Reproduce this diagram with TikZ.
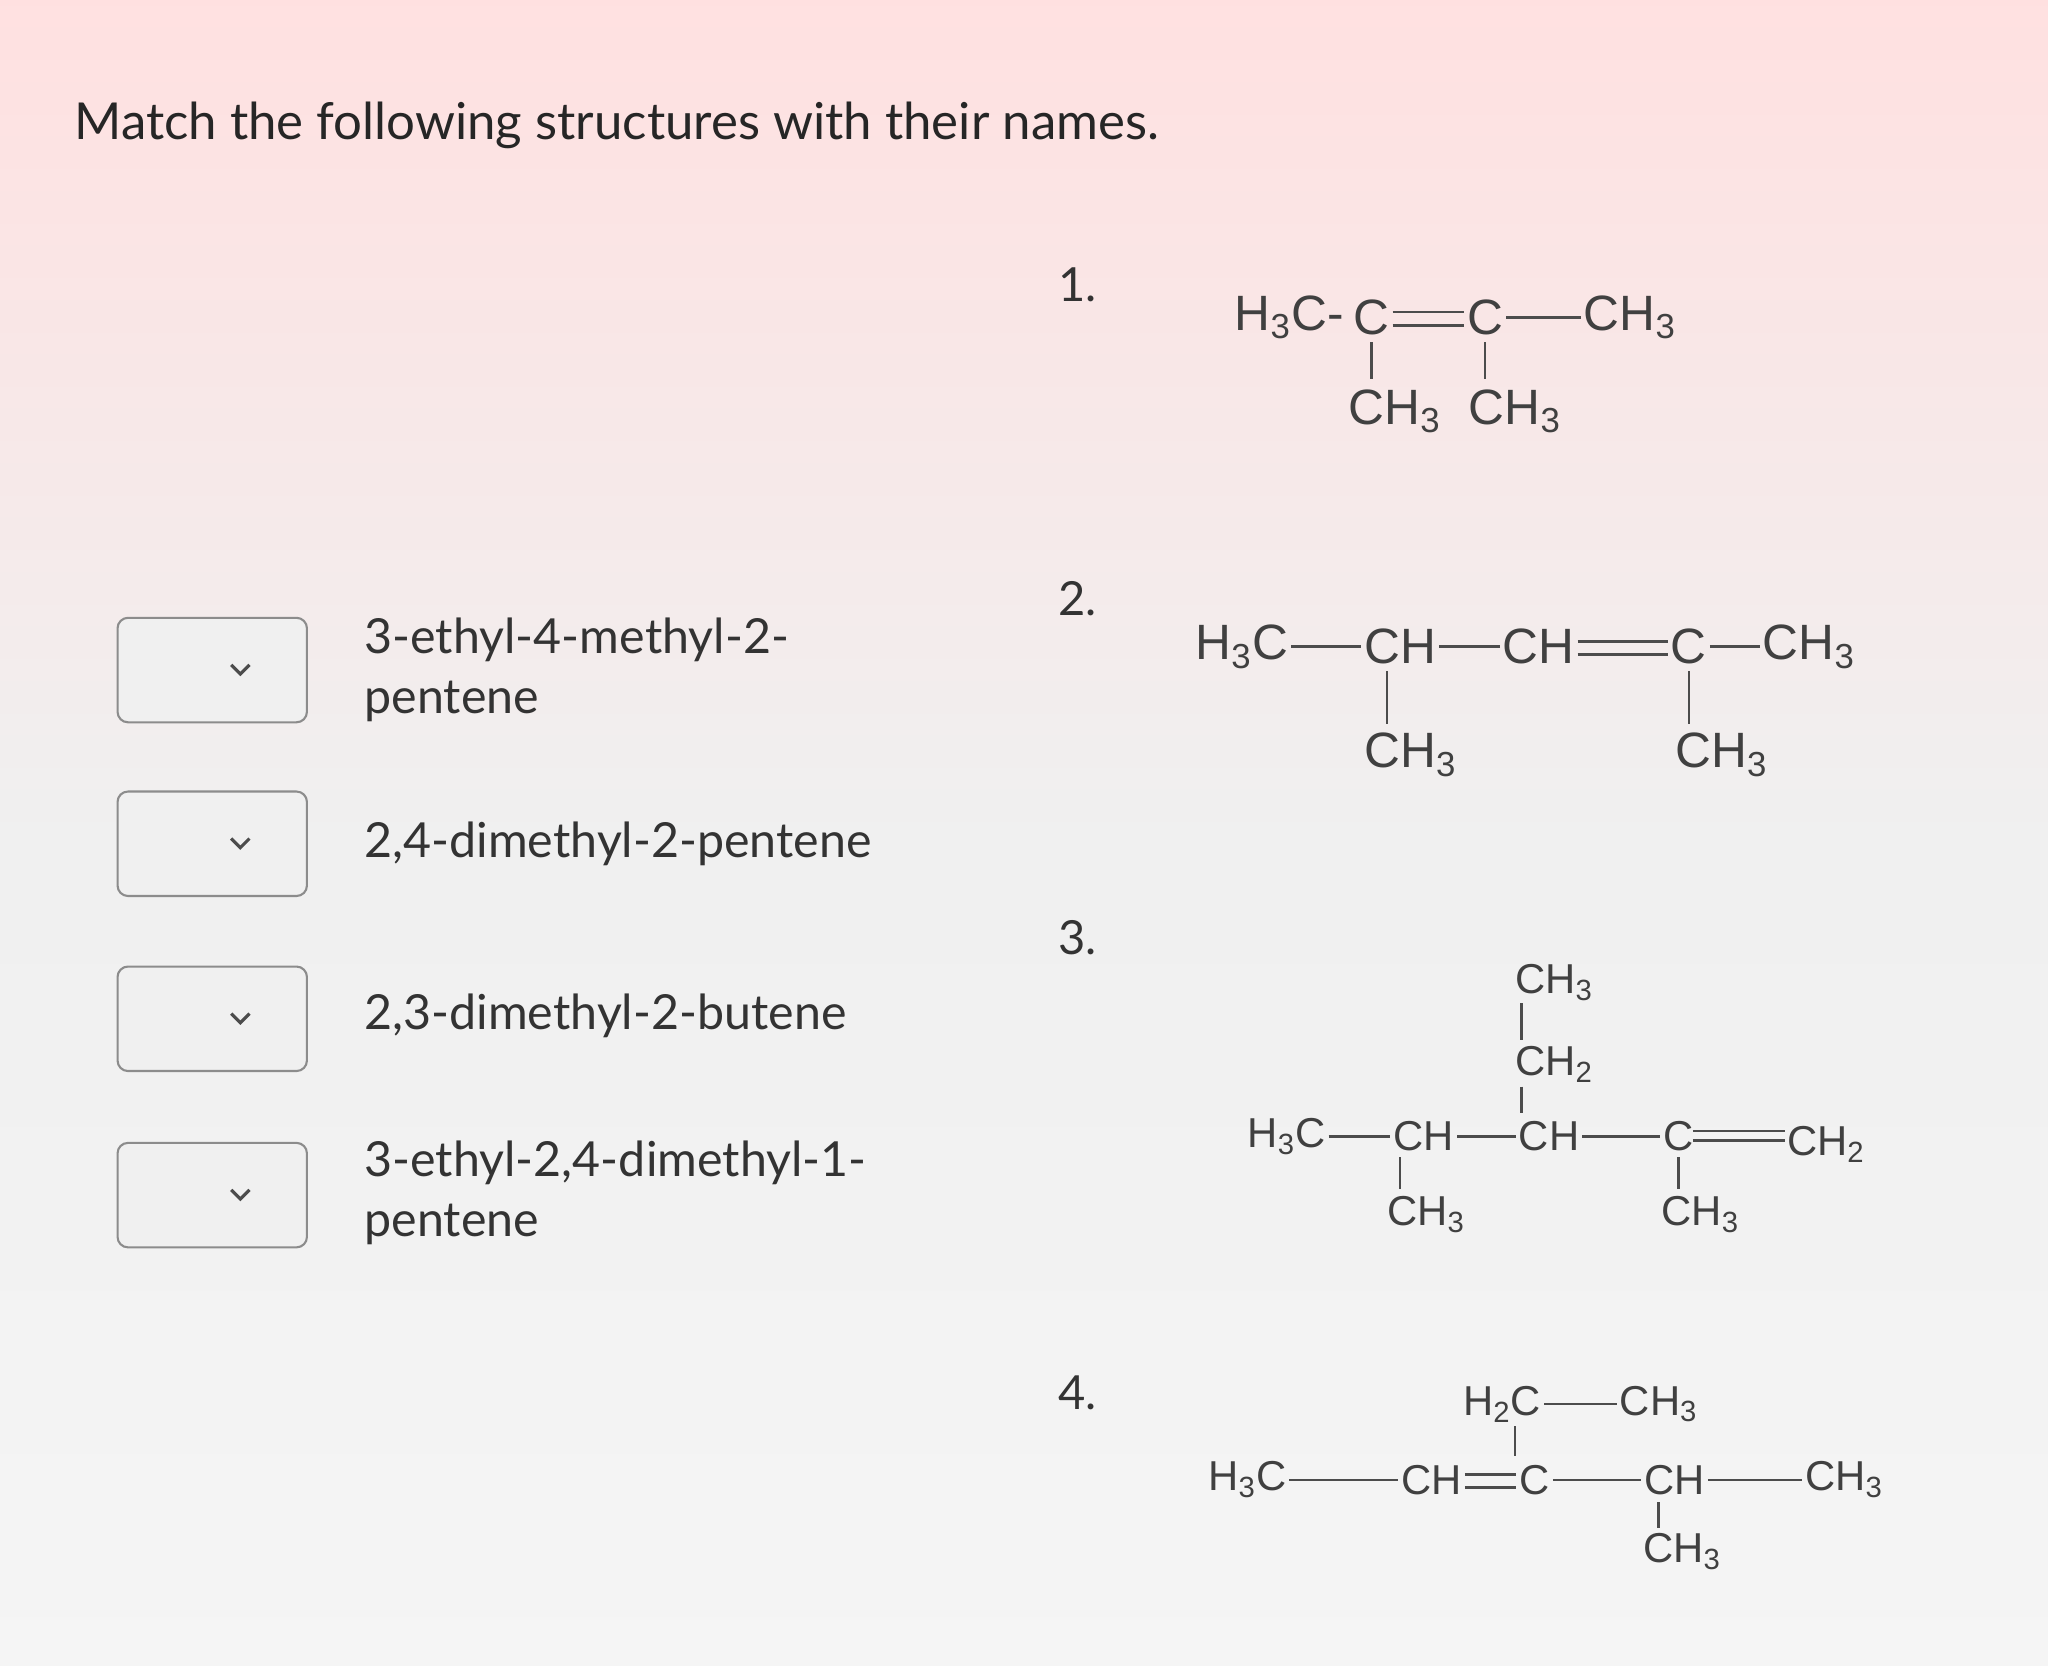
\documentclass[tikz,border=0pt]{standalone}
\usepackage{fontspec}
\setmainfont{Lato}
\newfontfamily\chem{Liberation Sans}
\newcommand{\chsub}[1]{\textsubscript{#1}}
\begin{document}
\begin{tikzpicture}[x=0.5pt,y=-0.5pt,
  lbl/.style={font=\fontsize{18.5}{23}\selectfont,text=black!80,anchor=west,align=left},
  box/.style={draw=black!45,rounded corners=4pt,line width=0.8pt,fill=white!94!black},
  chv/.style={draw=black!70,line width=1.2pt},
  ca/.style={font=\chem\fontsize{19}{22}\selectfont,text=black!75,inner sep=1pt},
  cb/.style={font=\chem\fontsize{16}{19}\selectfont,text=black!75,inner sep=1pt},
  bd/.style={draw=black!70,line width=1pt},
  num/.style={font=\fontsize{18}{20}\selectfont,text=black!80}]
\shade[top color=red!12,bottom color=black!4,middle color=black!6] (0,0) rectangle (1568,1275);
\useasboundingbox (0,0) rectangle (1568,1275);
\node[anchor=west,font=\fontsize{19.5}{22}\selectfont,text=black!85] (title) at (50,96) {Match the following structures with their names.};
% options
\foreach \y/\n in {513/a,646/b,780/c,915/d}{
  \draw[box] (90,\y-40) rectangle (235,\y+40);
  \draw[chv] (177,\y-4) -- (184,\y+3) -- (191,\y-4);
}
\node[lbl] (o1) at (272,513) {3-ethyl-4-methyl-2-\\pentene};
\node[lbl] (o2) at (272,646) {2,4-dimethyl-2-pentene};
\node[lbl] (o3) at (272,778) {2,3-dimethyl-2-butene};
\node[lbl] (o4) at (272,913) {3-ethyl-2,4-dimethyl-1-\\pentene};
\node[num] (n1) at (825,218) {1.};
\node[num] (n2) at (825,458) {2.};
\node[num] (n3) at (825,718) {3.};
\node[num] (n4) at (825,1066) {4.};
% structure 1
\node[ca,anchor=west] (s1a) at (943,243) {H\chsub{3}C-};
\node[ca] (s1b) at (1050,243) {C};
\node[ca] (s1c) at (1137,243) {C};
\node[ca] (s1d) at (1248,243) {CH\chsub{3}};
\node[ca] (s1e) at (1068,315) {CH\chsub{3}};
\node[ca] (s1f) at (1160,315) {CH\chsub{3}};
\draw[bd] ([yshift=2]s1b.east) -- ([yshift=2]s1c.west);
\draw[bd] ([yshift=-3]s1b.east) -- ([yshift=-3]s1c.west);
\draw[bd] (s1c.east) -- (s1d.west);
\draw[bd] (1050,262) -- (1050,290);
\draw[bd] (1137,262) -- (1137,290);
% structure 2
\node[ca,anchor=west] (s2a) at (913,495) {H\chsub{3}C};
\node[ca] (s2b) at (1072,495) {CH};
\node[ca] (s2c) at (1178,495) {CH};
\node[ca] (s2d) at (1293,495) {C};
\node[ca] (s2e) at (1385,495) {CH\chsub{3}};
\node[ca] (s2f) at (1080,578) {CH\chsub{3}};
\node[ca] (s2g) at (1318,578) {CH\chsub{3}};
\draw[bd] (s2a.east) -- (s2b.west);
\draw[bd] (s2b.east) -- (s2c.west);
\draw[bd] ([yshift=2]s2c.east) -- ([yshift=2]s2d.west);
\draw[bd] ([yshift=-3]s2c.east) -- ([yshift=-3]s2d.west);
\draw[bd] (s2d.east) -- (s2e.west);
\draw[bd] (1062,514) -- (1062,554);
\draw[bd] (1293,514) -- (1293,554);
% structure 3
\node[cb] (s3a) at (985,870) {H\chsub{3}C};
\node[cb] (s3b) at (1090,870) {CH};
\node[cb] (s3c) at (1186,870) {CH};
\node[cb] (s3d) at (1285,870) {C};
\node[cb] (s3e) at (1398,876) {CH\chsub{2}};
\node[cb] (s3f) at (1190,752) {CH\chsub{3}};
\node[cb] (s3g) at (1190,815) {CH\chsub{2}};
\node[cb] (s3h) at (1092,930) {CH\chsub{3}};
\node[cb] (s3i) at (1302,930) {CH\chsub{3}};
\draw[bd] (s3a.east) -- (s3b.west);
\draw[bd] (s3b.east) -- (s3c.west);
\draw[bd] (s3c.east) -- (s3d.west);
\draw[bd] (1296,873) -- (1367,873);
\draw[bd] (1296,866) -- (1367,866);
\draw[bd] (1165,768) -- (1165,796);
\draw[bd] (1165,832) -- (1165,852);
\draw[bd] (1072,886) -- (1072,910);
\draw[bd] (1285,886) -- (1285,910);
% structure 4
\node[cb] (s4a) at (1150,1075) {H\chsub{2}C};
\node[cb] (s4b) at (1270,1075) {CH\chsub{3}};
\node[cb] (s4c) at (955,1133) {H\chsub{3}C};
\node[cb] (s4d) at (1096,1133) {CH};
\node[cb] (s4e) at (1175,1133) {C};
\node[cb] (s4f) at (1282,1133) {CH};
\node[cb] (s4g) at (1412,1133) {CH\chsub{3}};
\node[cb] (s4h) at (1288,1188) {CH\chsub{3}};
\draw[bd] (s4a.east) -- (s4b.west);
\draw[bd] (s4c.east) -- (s4d.west);
\draw[bd] ([yshift=2]s4d.east) -- ([yshift=2]s4e.west);
\draw[bd] ([yshift=-3]s4d.east) -- ([yshift=-3]s4e.west);
\draw[bd] (s4e.east) -- (s4f.west);
\draw[bd] (s4f.east) -- (s4g.west);
\draw[bd] (1160,1092) -- (1160,1115);
\draw[bd] (1270,1150) -- (1270,1170);
\end{tikzpicture}
\end{document}
